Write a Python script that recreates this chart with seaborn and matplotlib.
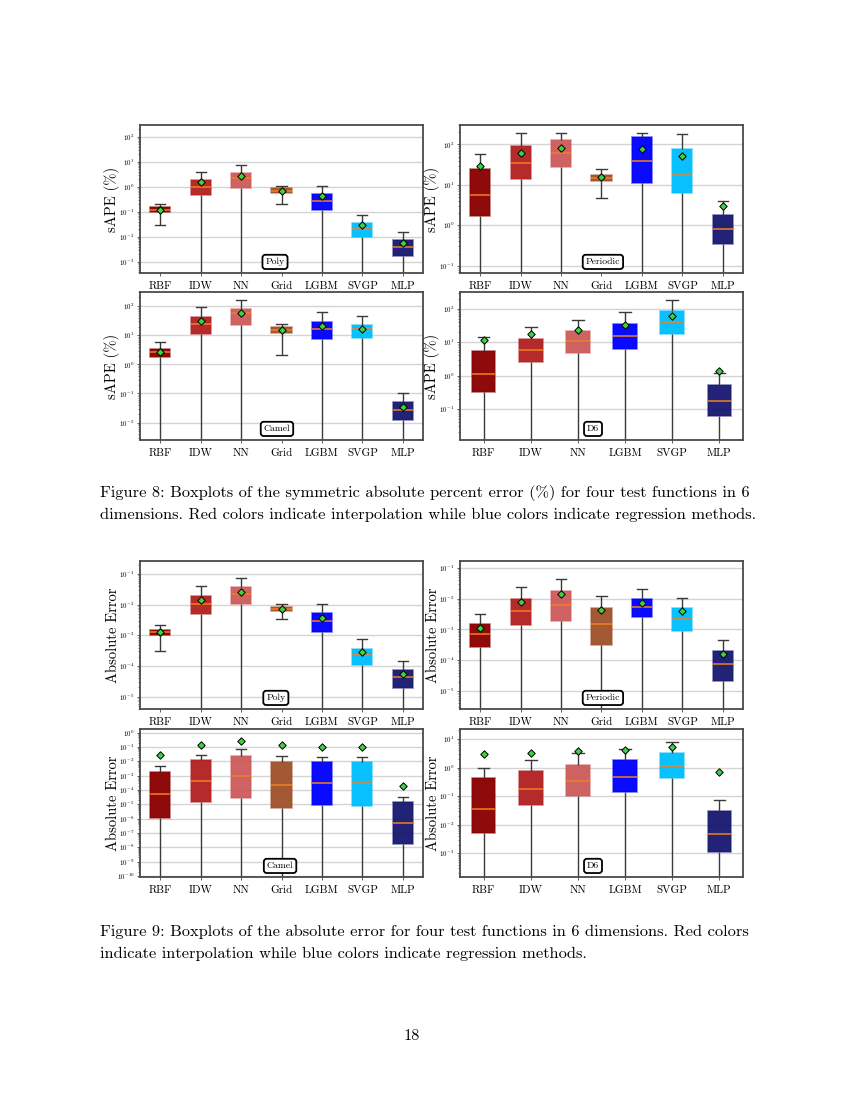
import numpy as np
import pandas as pd
from matplotlib import pyplot as plt
from matplotlib.colors import to_rgba
from matplotlib.ticker import LogLocator, NullFormatter
import seaborn as sns

methods7 = ['RBF', 'IDW', 'NN', 'Grid', 'LGBM', 'SVGP', 'MLP']
methods6 = ['RBF', 'IDW', 'NN', 'LGBM', 'SVGP', 'MLP']

# --- Figure 8: sAPE (%) ---
sape_poly_lo = [0.031, 0, 0, 0.21, 0, 0, 0]
sape_poly_q1 = [0.10, 0.47, 0.93, 0.56, 0.117, 0.0097, 0.0018]
sape_poly_med = [0.12, 1.0, 2.2, 0.71, 0.28, 0.021, 0.0039]
sape_poly_q3 = [0.15, 1.9, 3.7, 0.86, 0.54, 0.036, 0.0074]
sape_poly_hi = [0.21, 4.0, 7.8, 1.13, 1.13, 0.076, 0.016]
sape_poly_mean = [0.12, 1.5, 2.7, 0.69, 0.42, 0.029, 0.0059]

sape_periodic_lo = [0, 0, 0, 4.7, 0, 0, 0]
sape_periodic_q1 = [1.74, 13.8, 27, 12.3, 11.2, 6.3, 0.34]
sape_periodic_med = [5.6, 35, 63, 14.9, 40, 18, 0.8]
sape_periodic_q3 = [24.5, 91, 128, 17.7, 155, 75, 1.77]
sape_periodic_hi = [59, 195, 195, 25, 195, 180, 4.0]
sape_periodic_mean = [28.5, 60, 83, 15.2, 76, 53, 3.0]

sape_camel_lo = [0, 0, 0, 2.15, 0, 0, 0]
sape_camel_q1 = [1.84, 11.1, 23, 12, 7.5, 8.1, 0.0123]
sape_camel_med = [2.6, 24.6, 57, 15, 17, 16, 0.026]
sape_camel_q3 = [3.5, 42, 83, 19, 29, 22, 0.049]
sape_camel_hi = [5.9, 93, 170, 25, 62, 45, 0.1]
sape_camel_mean = [2.6, 32, 57, 14.7, 20.5, 16.5, 0.035]

sape_d6_lo = [0, 0, 0, 0, 0, 0]
sape_d6_q1 = [0.32, 2.5, 4.8, 6.3, 17.8, 0.063]
sape_d6_med = [1.1, 5.9, 10.5, 14.8, 39, 0.17]
sape_d6_q3 = [5.5, 12.6, 21, 35, 83, 0.52]
sape_d6_hi = [13.8, 28, 47, 79, 178, 1.2]
sape_d6_mean = [11.5, 17.4, 23, 33, 60, 1.32]

# --- Figure 9: absolute error ---
abs_poly_lo = [3.2e-4, 0, 0, 3.4e-3, 0, 0, 0]
abs_poly_q1 = [1.02e-3, 5.1e-3, 0.0102, 6.2e-3, 1.29e-3, 1.05e-4, 1.96e-5]
abs_poly_med = [1.25e-3, 0.0107, 0.022, 7.4e-3, 2.9e-3, 2.2e-4, 4.3e-5]
abs_poly_q3 = [1.5e-3, 0.019, 0.037, 8.2e-3, 5.2e-3, 3.7e-4, 7.4e-5]
abs_poly_hi = [2.2e-3, 0.041, 0.076, 0.0105, 0.0107, 7.8e-4, 1.5e-4]
abs_poly_mean = [1.25e-3, 0.0142, 0.025, 7.2e-3, 3.8e-3, 2.8e-4, 5.6e-5]

abs_periodic_lo = [0, 0, 0, 0, 0, 0, 0]
abs_periodic_q1 = [2.7e-4, 1.35e-3, 1.9e-3, 3.1e-4, 2.5e-3, 9.1e-4, 2.1e-5]
abs_periodic_med = [6.9e-4, 4.0e-3, 6.4e-3, 1.45e-3, 5.3e-3, 2.2e-3, 7.3e-5]
abs_periodic_q3 = [1.45e-3, 0.01, 0.018, 5.1e-3, 0.01, 4.8e-3, 1.94e-4]
abs_periodic_hi = [3.1e-3, 0.023, 0.042, 0.0123, 0.021, 0.0107, 4.6e-4]
abs_periodic_mean = [1.13e-3, 7.5e-3, 0.0137, 4.35e-3, 7.3e-3, 3.9e-3, 1.63e-4]

abs_camel_lo = [0, 0, 0, 0, 0, 0, 0]
abs_camel_q1 = [1.2e-6, 1.5e-5, 3.0e-5, 6.0e-6, 8.7e-6, 7.4e-6, 1.6e-8]
abs_camel_med = [4.9e-5, 4.4e-4, 9.3e-4, 2.3e-4, 2.9e-4, 3.0e-4, 4.8e-7]
abs_camel_q3 = [1.7e-3, 0.0117, 0.025, 9.4e-3, 8.5e-3, 8.9e-3, 1.4e-5]
abs_camel_hi = [4.7e-3, 0.030, 0.068, 0.023, 0.020, 0.020, 3.5e-5]
abs_camel_mean = [0.029, 0.145, 0.275, 0.138, 0.094, 0.094, 1.96e-4]

abs_d6_lo = [0, 0, 0, 0, 0, 0]
abs_d6_q1 = [5.1e-3, 0.05, 0.1, 0.145, 0.42, 1.12e-3]
abs_d6_med = [0.036, 0.18, 0.34, 0.45, 1.1, 4.8e-3]
abs_d6_q3 = [0.42, 0.74, 1.26, 1.87, 3.2, 0.03]
abs_d6_hi = [1.0, 1.78, 3.2, 4.3, 7.6, 0.074]
abs_d6_mean = [2.9, 3.2, 3.9, 4.1, 5.4, 0.68]

caption8 = ["Figure 8: Boxplots of the symmetric absolute percent error (%) for four test functions in 6",
            "dimensions. Red colors indicate interpolation while blue colors indicate regression methods."]
caption9 = ["Figure 9: Boxplots of the absolute error for four test functions in 6 dimensions. Red colors",
            "indicate interpolation while blue colors indicate regression methods."]

method_colors = {'RBF': '#8B0000', 'IDW': '#B22222', 'NN': '#CD5C5C', 'Grid': '#A0522D',
                 'LGBM': '#0000FF', 'SVGP': '#00BFFF', 'MLP': '#191970'}

plt.rcParams['font.family'] = 'serif'
plt.rcParams['font.serif'] = ['cmr10', 'DejaVu Serif']
plt.rcParams['mathtext.fontset'] = 'cm'
plt.rcParams['axes.formatter.use_mathtext'] = True


def draw_panel(ax, methods, lo, q1, med, q3, hi, mean, ylim, ylabel, tag, tag_x):
    # five points per method -> quartiles land exactly on the read values
    vals = np.column_stack([lo, q1, med, q3, hi]).ravel()
    df = pd.DataFrame({'method': np.repeat(methods, 5), 'value': vals})
    pal = [method_colors[m] for m in methods]
    sns.boxplot(data=df, x='method', y='value', hue='method', order=methods, hue_order=methods,
                palette=pal, legend=False, width=0.5, whis=(0, 100), showfliers=False,
                saturation=1, linecolor='#3a3a3a', linewidth=1.0,
                medianprops=dict(color='#f07f20', linewidth=1.1), ax=ax)
    for p in ax.patches:
        fc = p.get_facecolor()
        p.set_facecolor(to_rgba(fc, 0.96))
        p.set_edgecolor(to_rgba(fc, 0.55))
        p.set_linewidth(1.2)
    sns.stripplot(x=methods, y=mean, order=methods, jitter=False, marker='D', color='#3fd23f',
                  edgecolor='black', linewidth=0.7, size=3.8, zorder=5, ax=ax)
    ax.set_yscale('log')
    ax.set_ylim(10 ** ylim[0], 10 ** ylim[1])
    ax.set_xlim(-0.5, len(methods) - 0.5)
    ax.yaxis.set_major_locator(LogLocator(base=10, numticks=30))
    ax.yaxis.set_minor_locator(LogLocator(base=10, subs=np.arange(2, 10), numticks=30))
    ax.yaxis.set_minor_formatter(NullFormatter())
    ax.yaxis.grid(True, which='major', color='#d4d4d4', linewidth=1.0)
    ax.set_axisbelow(True)
    ax.tick_params(axis='y', which='major', labelsize=5, length=2.5, width=0.6, color='#444444', pad=1.5)
    ax.tick_params(axis='y', which='minor', length=1.5, width=0.5, color='#444444')
    ax.tick_params(axis='x', labelsize=8, length=2.5, width=0.6, color='#444444')
    for s in ax.spines.values():
        s.set_color('#4a4a4a')
        s.set_linewidth(1.3)
    ax.set_xlabel('')
    ax.set_ylabel(ylabel, fontsize=10.5)
    ax.yaxis.set_label_coords(-0.072, 0.5)
    ax.text(tag_x, 0.075, tag, transform=ax.transAxes, ha='center', va='center', fontsize=7,
            bbox=dict(boxstyle='round,pad=0.3', fc='white', ec='black', lw=1.3), zorder=10)


fig = plt.figure(figsize=(8.5, 11), dpi=100)
fig.patch.set_facecolor('white')

W, H = 850.0, 1100.0


def axes_at(x0, y0, x1, y1):
    return fig.add_axes([x0 / W, 1 - y1 / H, (x1 - x0) / W, (y1 - y0) / H])


ax = axes_at(140, 125, 423, 273)
draw_panel(ax, methods7, sape_poly_lo, sape_poly_q1, sape_poly_med, sape_poly_q3, sape_poly_hi,
           sape_poly_mean, (-3.44, 2.47), 'sAPE (%)', 'Poly', 0.477)
ax = axes_at(460, 125, 743, 273)
draw_panel(ax, methods7, sape_periodic_lo, sape_periodic_q1, sape_periodic_med, sape_periodic_q3,
           sape_periodic_hi, sape_periodic_mean, (-1.18, 2.48), 'sAPE (%)', 'Periodic', 0.505)
ax = axes_at(140, 292, 423, 440)
draw_panel(ax, methods7, sape_camel_lo, sape_camel_q1, sape_camel_med, sape_camel_q3, sape_camel_hi,
           sape_camel_mean, (-2.6, 2.49), 'sAPE (%)', 'Camel', 0.484)
ax = axes_at(460, 292, 743, 440)
draw_panel(ax, methods6, sape_d6_lo, sape_d6_q1, sape_d6_med, sape_d6_q3, sape_d6_hi,
           sape_d6_mean, (-1.93, 2.5), 'sAPE (%)', 'D6', 0.47)

ax = axes_at(140, 561, 423, 709)
draw_panel(ax, methods7, abs_poly_lo, abs_poly_q1, abs_poly_med, abs_poly_q3, abs_poly_hi,
           abs_poly_mean, (-5.4, -0.58), 'Absolute Error', 'Poly', 0.48)
ax = axes_at(460, 561, 743, 709)
draw_panel(ax, methods7, abs_periodic_lo, abs_periodic_q1, abs_periodic_med, abs_periodic_q3,
           abs_periodic_hi, abs_periodic_mean, (-5.58, -0.78), 'Absolute Error', 'Periodic', 0.505)
ax = axes_at(140, 729, 423, 877)
draw_panel(ax, methods7, abs_camel_lo, abs_camel_q1, abs_camel_med, abs_camel_q3, abs_camel_hi,
           abs_camel_mean, (-10.07, 0.26), 'Absolute Error', 'Camel', 0.495)
ax = axes_at(460, 729, 743, 877)
draw_panel(ax, methods6, abs_d6_lo, abs_d6_q1, abs_d6_med, abs_d6_q3, abs_d6_hi,
           abs_d6_mean, (-3.83, 1.35), 'Absolute Error', 'D6', 0.47)

# captions and page number
for i, line in enumerate(caption8):
    fig.text(100 / W, 1 - (493 + 22 * i) / H, line, fontsize=11.8, va='center', ha='left')
for i, line in enumerate(caption9):
    fig.text(100 / W, 1 - (932 + 22 * i) / H, line, fontsize=11.8, va='center', ha='left')
fig.text(412 / W, 1 - 1036 / H, '18', fontsize=11.8, va='center', ha='center')

fig.savefig('out.png', dpi=100)
